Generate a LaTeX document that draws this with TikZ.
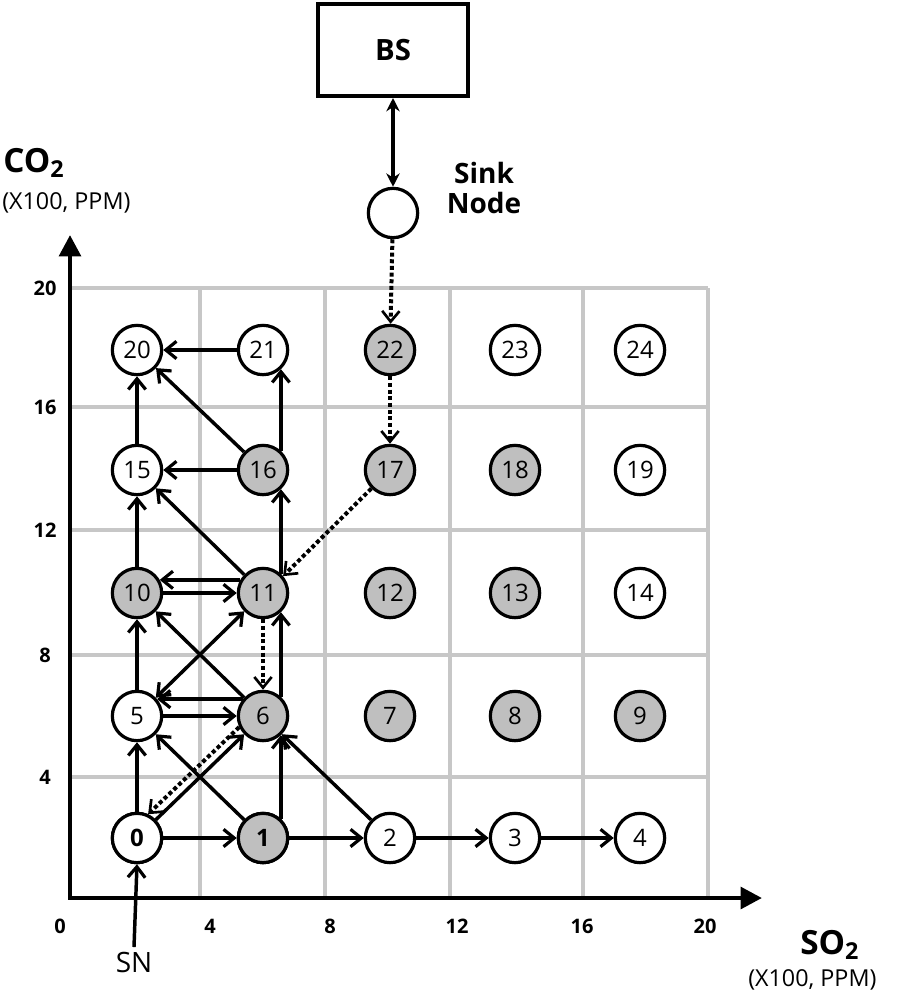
\documentclass[tikz,border=0pt]{standalone}
\usepackage{fontspec}
\setmainfont{Open Sans}
\usetikzlibrary{arrows.meta,calc}
\begin{document}
\begin{tikzpicture}[x=0.75pt,y=-0.75pt,
  nd/.style={circle,draw,line width=2.4pt,minimum size=37pt,inner sep=0pt,font=\fontsize{18}{18}\selectfont,fill=white},
  gn/.style={nd,fill=black!25},
  ed/.style={line width=2.6pt,-{Straight Barb[length=8pt,width=13pt,line width=2.4pt]}},
  dt/.style={line width=3pt,dotted,-{Straight Barb[length=8pt,width=13pt,line width=2pt]}},
  tick/.style={font=\bfseries\fontsize{15}{15}\selectfont},
  grd/.style={draw=black!22,line width=3pt}]
\useasboundingbox (0,0) rectangle (923,1000);
% grid
\foreach \x in {200,325,450,583,708} \draw[grd] (\x,288) -- (\x,898);
\foreach \y in {288,407,530,655,777} \draw[grd] (70,\y) -- (708,\y);
% axes
\draw[line width=3.5pt,-{Triangle[length=16pt,width=16pt]}] (70,898) -- (70,235);
\draw[line width=3.5pt,-{Triangle[length=16pt,width=16pt]}] (68,898) -- (762,898);
% tick labels
\foreach \v/\y in {20/288,16/407,12/530,8/655,4/777} \node[tick] at (45,\y) {\v};
\foreach \v/\x in {0/60,4/210,8/330,12/457,16/582,20/705} \node[tick] at (\x,926) {\v};
% axis labels
\node[anchor=west,font=\bfseries\fontsize{25}{25}\selectfont,inner sep=0] at (3,163) {CO\textsubscript{2}};
\node[anchor=west,font=\fontsize{17.5}{17.5}\selectfont,inner sep=0] at (2,203) {(X100, PPM)};
\node[anchor=west,font=\bfseries\fontsize{25}{25}\selectfont,inner sep=0] at (800,945) {SO\textsubscript{2}};
\node[anchor=west,font=\fontsize{17.5}{17.5}\selectfont,inner sep=0] at (748,980) {(X100, PPM)};
% nodes
\foreach \i/\x/\y/\s in {0/137/838/nd,1/263/838/gn,2/390/838/nd,3/515/838/nd,4/640/838/nd,
  5/137/716/nd,6/263/716/gn,7/390/716/gn,8/515/716/gn,9/640/716/gn,
  10/137/593/gn,11/263/593/gn,12/390/593/gn,13/515/593/gn,14/640/593/nd,
  15/137/470/nd,16/263/470/gn,17/390/470/gn,18/515/470/gn,19/640/470/nd,
  20/137/350/nd,21/263/350/nd,22/390/350/gn,23/515/350/nd,24/640/350/nd}
  \node[\s] (n\i) at (\x,\y) {\i};
\node[nd,font=\bfseries\fontsize{18}{18}\selectfont] at (n0) {0};
\node[gn,font=\bfseries\fontsize{18}{18}\selectfont] at (n1) {1};
% BS and sink
\node[draw,line width=3pt,minimum width=113pt,minimum height=69pt,font=\bfseries\fontsize{22}{22}\selectfont] (bs) at (393,50) {BS};
\node[nd] (sink) at (393,213) {};
\node[align=center,font=\bfseries\fontsize{21}{23}\selectfont] (sl) at (484,188) {Sink\\Node};
\node[font=\fontsize{21}{21}\selectfont] (sn) at (134,962) {SN};
\draw[line width=2.6pt,{Stealth[length=10pt,width=10pt]}-{Stealth[length=10pt,width=10pt]}] (bs.south) -- (sink.north);
\draw[line width=2.6pt,-{Straight Barb[length=8pt,width=13pt,line width=2.4pt]}] (sn.north) -- (n0.south);
% edges
\draw[ed] (n0) -- (n1);
\draw[ed] (n1) -- (n2);
\draw[ed] (n2) -- (n3);
\draw[ed] (n3) -- (n4);
\draw[ed] (n0) -- (n5);
\draw[ed] (n0) -- (n6);
\draw[ed] (n1) -- (n5);
\draw[ed] (n1.47) -- (n6.-47);
\draw[ed] (n2) -- (n6);
\draw[ed] (n5) -- (n6);
\draw[ed] (n6.140) -- (n5.40);
\draw[ed] (n5) -- (n10);
\draw[ed,{Straight Barb[length=8pt,width=13pt,line width=2.4pt]}-{Straight Barb[length=8pt,width=13pt,line width=2.4pt]}] (n5) -- (n11);
\draw[ed] (n6) -- (n10);
\draw[ed] (n6.47) -- (n11.-47);
\draw[ed] (n10) -- (n11);
\draw[ed] (n11.150) -- (n10.30);
\draw[ed] (n10) -- (n15);
\draw[ed] (n11) -- (n15);
\draw[ed] (n11.47) -- (n16.-47);
\draw[ed] (n16) -- (n15);
\draw[ed] (n16) -- (n20);
\draw[ed] (n16.47) -- (n21.-47);
\draw[ed] (n15) -- (n20);
\draw[ed] (n21) -- (n20);
% dotted route
\draw[dt] (sink) -- (n22);
\draw[dt] (n22) -- (n17);
\draw[dt] (n17) -- (n11.40);
\draw[dt] (n11) -- (n6);
\draw[dt] (n6.205) -- (n0.65);
\end{tikzpicture}
\end{document}
